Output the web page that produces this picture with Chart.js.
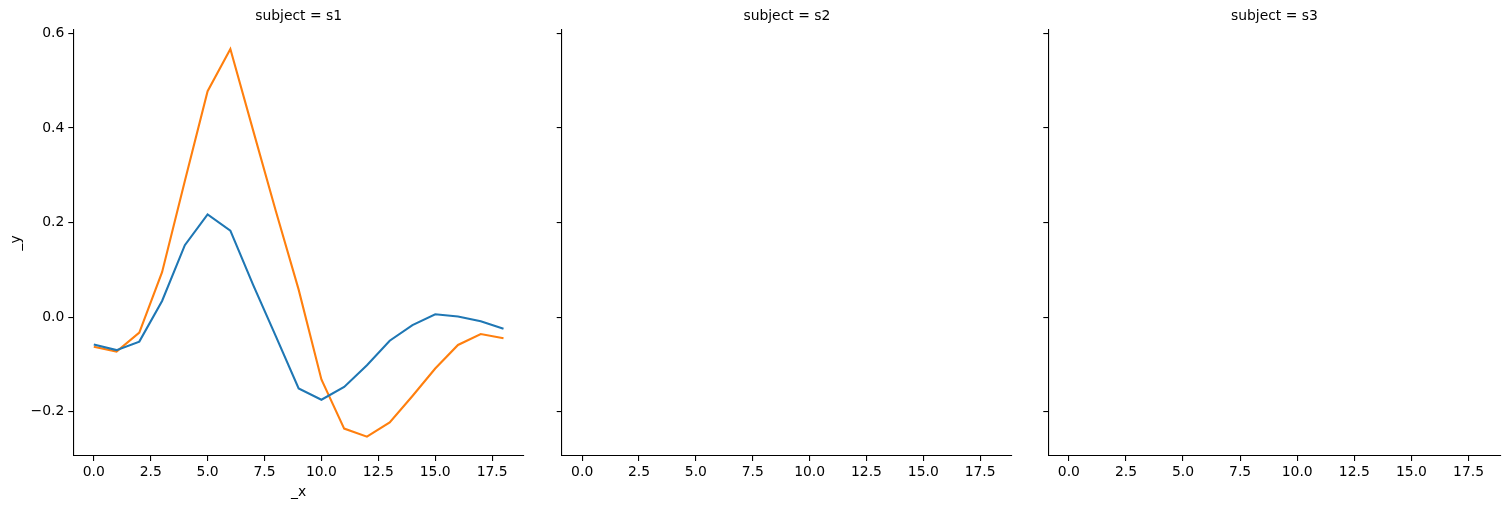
<!DOCTYPE html>
<html>
<head>
<meta charset="utf-8">
<script src="https://cdn.jsdelivr.net/npm/chart.js@4.4.1/dist/chart.umd.min.js"></script>
<style>
    html, body { margin: 0; padding: 0; background: #fff; }
    #wrap { position: relative; width: 1510px; height: 509px; }
    .panel { position: absolute; top: 0; height: 509px; }
</style>
</head>
<body>
<div id="wrap">
    <div class="panel" style="left:0px;width:530px"><canvas id="c1"></canvas></div>
    <div class="panel" style="left:530px;width:490px"><canvas id="c2"></canvas></div>
    <div class="panel" style="left:1020px;width:490px"><canvas id="c3"></canvas></div>
</div>
<script>
// Dados (subject = s1)
const xValues = [0, 1, 2, 3, 4, 5, 6, 7, 8, 9, 10, 11, 12, 13, 14, 15, 16, 17, 18];
const blueValues = [-0.058, -0.070, -0.052, 0.034, 0.152, 0.217, 0.183, 0.068, -0.041, -0.151,
    -0.175, -0.148, -0.102, -0.050, -0.017, 0.006, 0.001, -0.009, -0.025];
const orangeValues = [-0.063, -0.073, -0.033, 0.095, 0.288, 0.478, 0.567, 0.395, 0.224, 0.058,
    -0.132, -0.236, -0.253, -0.223, -0.167, -0.109, -0.059, -0.036, -0.045];
const subjects = ['s1', 's2', 's3'];
const xTicks = [0, 2.5, 5, 7.5, 10, 12.5, 15, 17.5];
const yTicks = [-0.2, 0, 0.2, 0.4, 0.6];

const FONT = 'DejaVu Sans';
const FS = 13.9;

function toPoints(ys) {
    return xValues.map((x, i) => ({ x: x, y: ys[i] }));
}

function fmt(v) {
    return v.toFixed(1).replace('-', '\u2212');
}

// Título centrado sobre a área do gráfico (como no seaborn)
const panelTitle = {
    id: 'panelTitle',
    afterDraw(chart, args, opts) {
        const ctx = chart.ctx;
        const area = chart.chartArea;
        ctx.save();
        ctx.fillStyle = '#000';
        ctx.font = FS + 'px "' + FONT + '"';
        ctx.textAlign = 'center';
        ctx.textBaseline = 'middle';
        ctx.fillText(opts.text, (area.left + area.right) / 2, 16);
        ctx.restore();
    }
};

function makePanel(canvasId, idx, yWidth, padRight) {
    const first = idx === 0;
    const datasets = first ? [
        { data: toPoints(blueValues), borderColor: '#1f77b4' },
        { data: toPoints(orangeValues), borderColor: '#ff7f0e' }
    ] : [];
    datasets.forEach(d => {
        d.borderWidth = 2.1;
        d.pointRadius = 0;
        d.tension = 0;
        d.fill = false;
    });

    return new Chart(document.getElementById(canvasId), {
        type: 'line',
        data: { datasets: datasets },
        plugins: [panelTitle],
        options: {
            responsive: true,
            maintainAspectRatio: false,
            animation: false,
            layout: { padding: { left: 0, right: padRight, top: 29.7, bottom: 0 } },
            plugins: {
                legend: { display: false },
                tooltip: { enabled: false },
                title: { display: false },
                panelTitle: { text: 'subject = ' + subjects[idx] }
            },
            scales: {
                x: {
                    type: 'linear',
                    min: -0.9,
                    max: 18.9,
                    afterBuildTicks: s => { s.ticks = xTicks.map(v => ({ value: v })); },
                    afterFit: s => { s.height = 53; },
                    border: { display: true, color: '#000', width: 1.1 },
                    grid: { display: true, drawOnChartArea: false, drawTicks: true, tickLength: 5, color: '#000', lineWidth: 1.1 },
                    ticks: {
                        color: '#000',
                        font: { family: FONT, size: FS },
                        padding: 3,
                        maxRotation: 0,
                        autoSkip: false,
                        callback: v => v.toFixed(1)
                    },
                    title: {
                        display: first,
                        text: '_x',
                        color: '#000',
                        font: { family: FONT, size: FS },
                        padding: { top: 0, bottom: 8 }
                    }
                },
                y: {
                    type: 'linear',
                    min: -0.294,
                    max: 0.608,
                    afterBuildTicks: s => { s.ticks = yTicks.map(v => ({ value: v })); },
                    afterFit: s => { s.width = yWidth; },
                    border: { display: true, color: '#000', width: 1.1 },
                    grid: { display: true, drawOnChartArea: false, drawTicks: true, tickLength: 5, color: '#000', lineWidth: 1.1 },
                    ticks: {
                        color: '#000',
                        font: { family: FONT, size: FS },
                        padding: 4,
                        autoSkip: false,
                        callback: v => first ? fmt(v) : ''
                    },
                    title: {
                        display: first,
                        text: '_y',
                        color: '#000',
                        font: { family: FONT, size: FS },
                        padding: { top: 8, bottom: 0 }
                    }
                }
            }
        }
    });
}

makePanel('c1', 0, 73.3, 6);
makePanel('c2', 1, 31.7, 8);
makePanel('c3', 2, 28.3, 9.5);
</script>
</body>
</html>
